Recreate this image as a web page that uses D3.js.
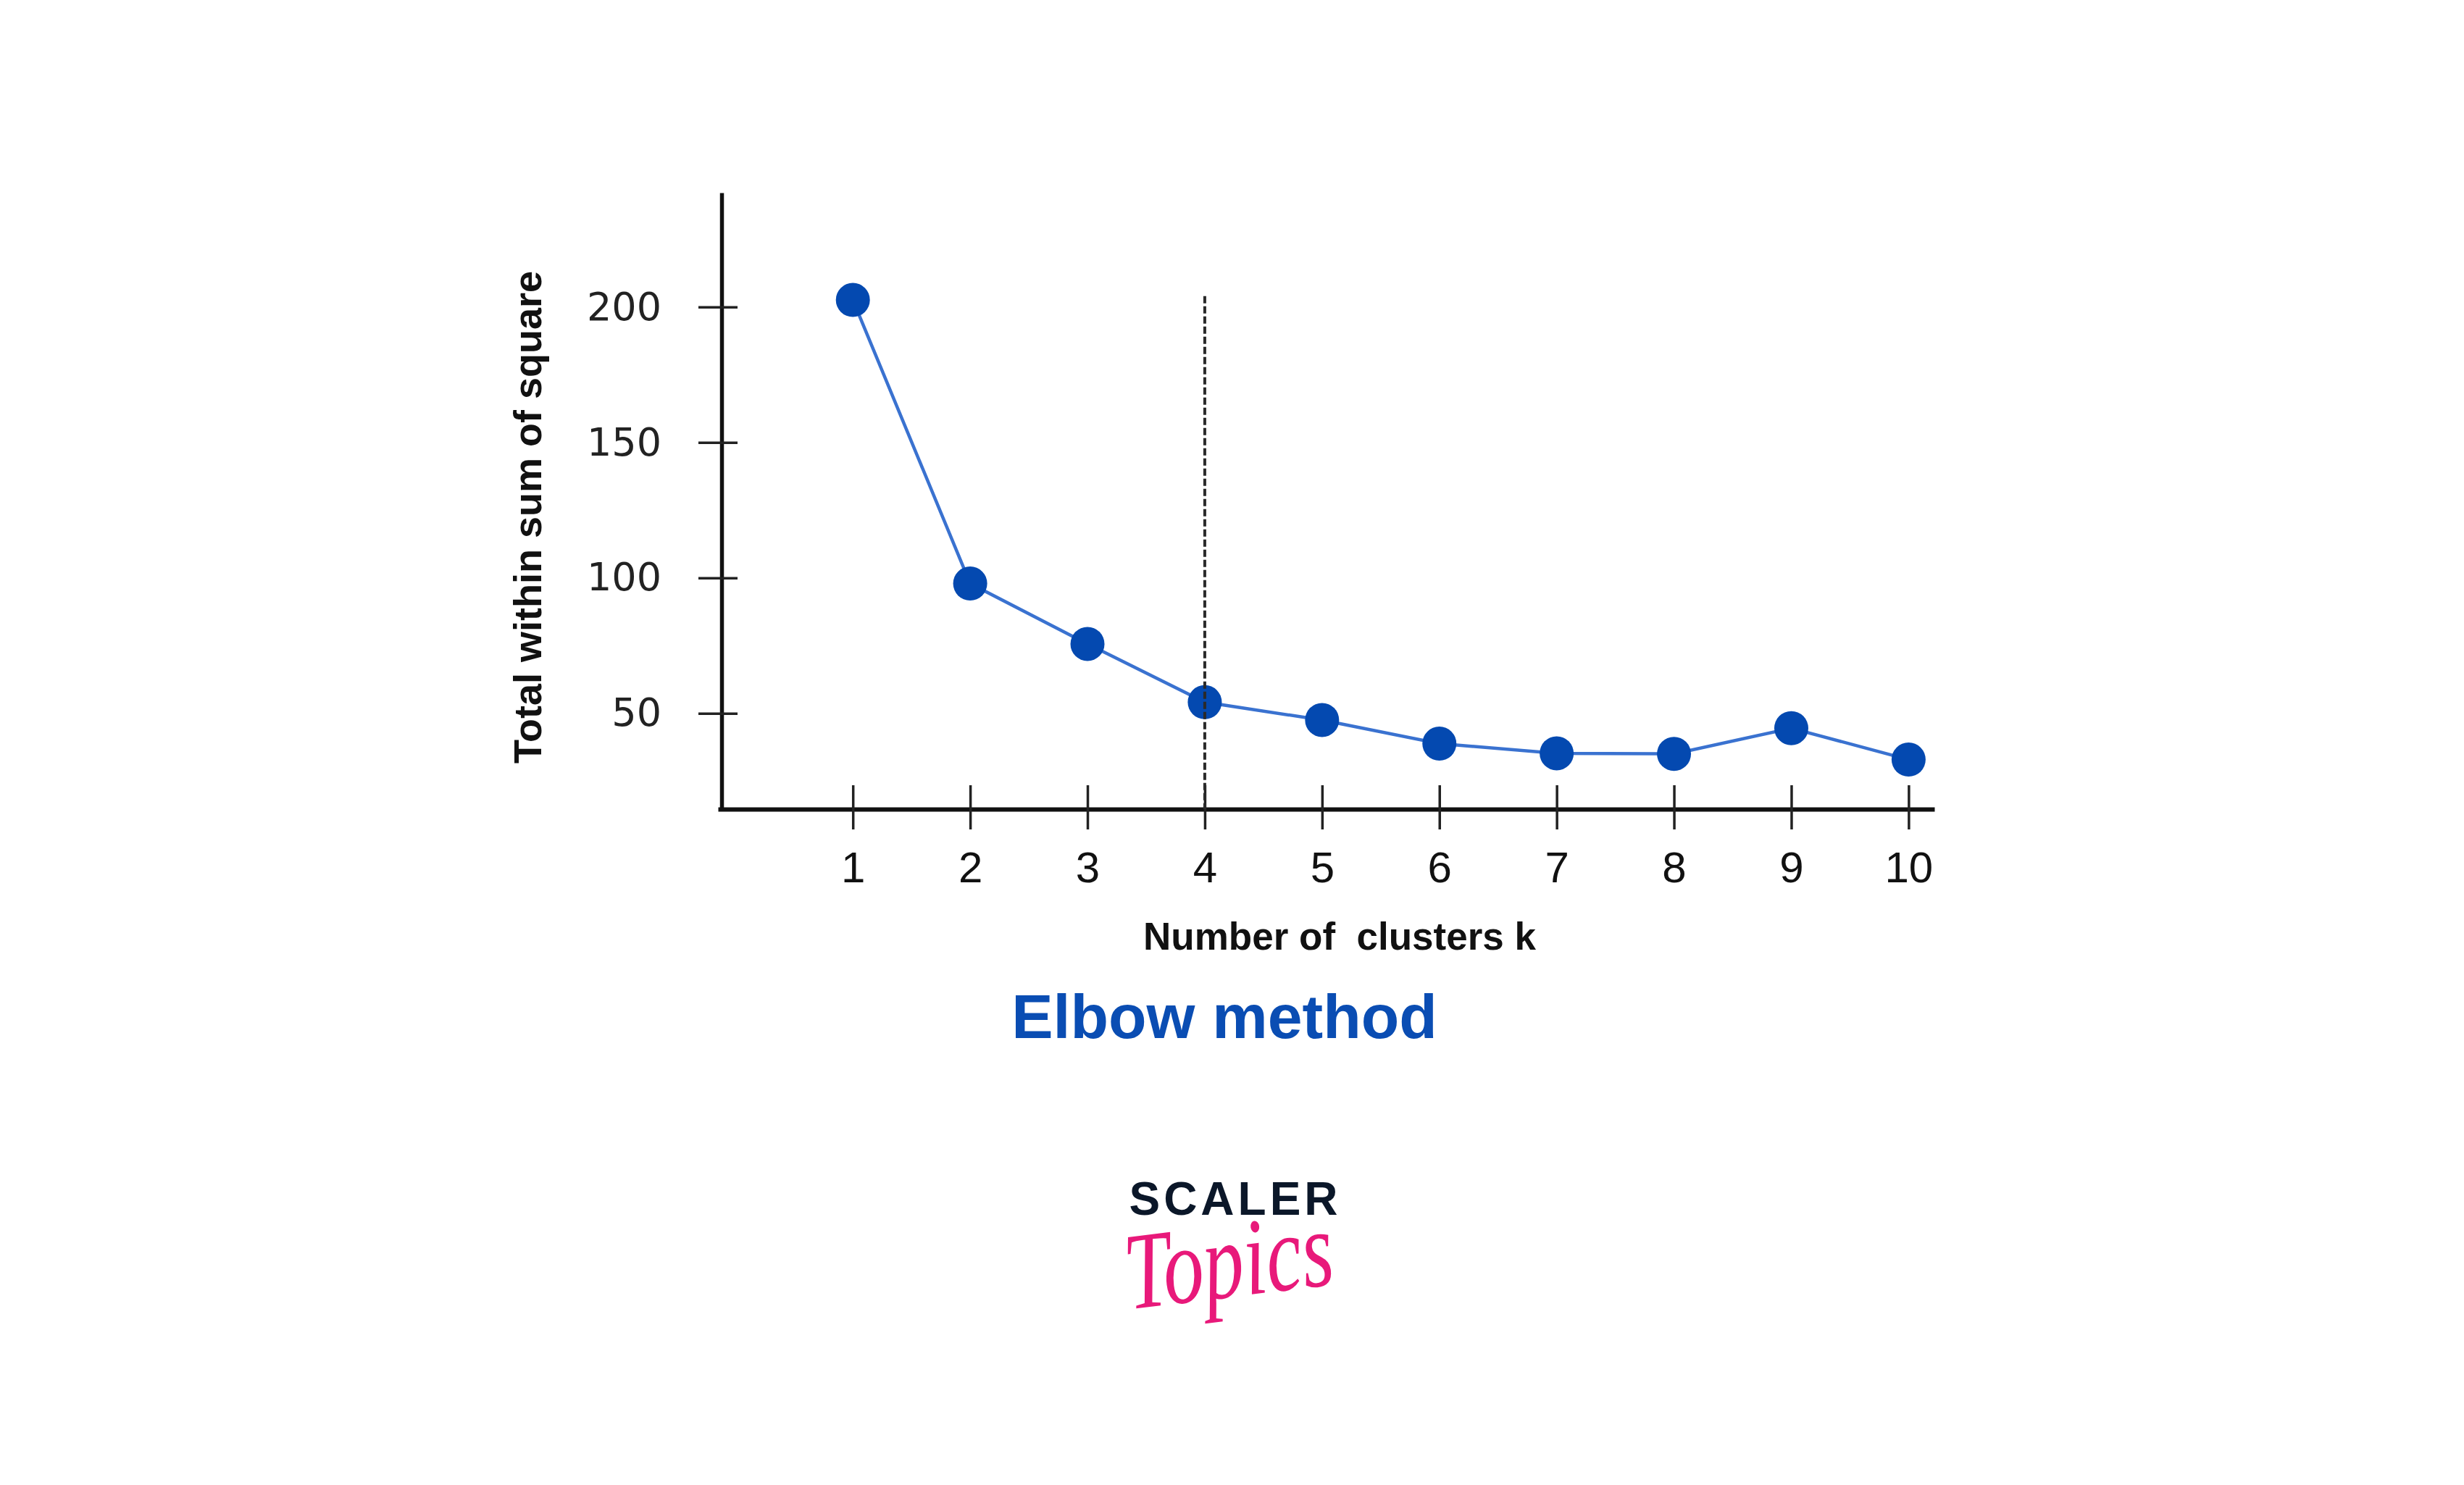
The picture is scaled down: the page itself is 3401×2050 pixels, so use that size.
<!DOCTYPE html>
<html>
<head>
<meta charset="utf-8">
<script src="https://cdn.jsdelivr.net/npm/d3@7"></script>
<style>
  html, body { margin: 0; padding: 0; background: #fff; }
  svg { display: block; }
</style>
</head>
<body>
<svg width="3401" height="2050"></svg>
<script>
// number of clusters k (x values)
const clusters = [1, 2, 3, 4, 5, 6, 7, 8, 9, 10];
// total within sum of square
const wss = [202.6, 97.9, 75.6, 54.1, 47.5, 38.8, 35.2, 35.0, 44.5, 32.9];
const xTicks = [1, 2, 3, 4, 5, 6, 7, 8, 9, 10];
const yTicks = [50, 100, 150, 200];
// the elbow, marked by the dashed line
const elbowK = 4;
const elbowTop = 204;

const data = clusters.map((k, i) => ({k: k, v: wss[i]}));

const svg = d3.select('svg');

svg.append('rect')
  .attr('width', 3401)
  .attr('height', 2050)
  .attr('fill', '#fff');

const x = d3.scaleLinear()
  .domain([-0.15, 10.22])
  .range([991, 2670]);

const y = d3.scaleLinear()
  .domain([14.6, 242.2])
  .range([1117, 266]);

// y axis, ticks cross the line
const yAxis = svg.append('g')
  .attr('class', 'axis axis--y')
  .attr('transform', 'translate(996,0)')
  .call(d3.axisLeft(y)
    .tickValues(yTicks)
    .tickSizeInner(32)
    .tickSizeOuter(0)
    .tickPadding(51));

yAxis.select('.domain')
  .attr('stroke', '#111')
  .attr('stroke-width', 5.5);

yAxis.selectAll('.tick line')
  .attr('x1', 22)
  .attr('stroke', '#222')
  .attr('stroke-width', 3.5);

yAxis.selectAll('.tick text')
  .attr('fill', '#222')
  .style('font-family', '"DejaVu Sans", sans-serif')
  .style('font-size', '54px');

// x axis
const xAxis = svg.append('g')
  .attr('class', 'axis axis--x')
  .attr('transform', 'translate(0,1117)')
  .call(d3.axisBottom(x)
    .tickValues(xTicks)
    .tickSizeInner(28)
    .tickSizeOuter(0)
    .tickPadding(30)
    .tickFormat(d3.format('d')));

xAxis.select('.domain')
  .attr('stroke', '#111')
  .attr('stroke-width', 6);

xAxis.selectAll('.tick line')
  .attr('y1', -33)
  .attr('stroke', '#222')
  .attr('stroke-width', 3.5);

xAxis.selectAll('.tick text')
  .attr('fill', '#111')
  .style('font-family', '"Liberation Sans", Arial, sans-serif')
  .style('font-size', '60px');

// the curve
const line = d3.line()
  .x(d => x(d.k))
  .y(d => y(d.v));

svg.append('path')
  .datum(data)
  .attr('d', line)
  .attr('fill', 'none')
  .attr('stroke', '#3a72d0')
  .attr('stroke-width', 4.5);

svg.selectAll('.dot')
  .data(data)
  .enter().append('circle')
    .attr('class', 'dot')
    .attr('cx', d => x(d.k))
    .attr('cy', d => y(d.v))
    .attr('r', 23.5)
    .attr('fill', '#0449b0');

// dashed elbow marker, drawn over the dot
svg.append('line')
  .attr('x1', x(elbowK))
  .attr('x2', x(elbowK))
  .attr('y1', y(elbowTop))
  .attr('y2', y.range()[0])
  .attr('stroke', '#2a2a2a')
  .attr('stroke-width', 4)
  .attr('stroke-dasharray', '10,4');

// axis titles
svg.append('text')
  .attr('transform', 'translate(747,714) rotate(-90)')
  .attr('text-anchor', 'middle')
  .attr('fill', '#111')
  .style('font-family', '"Liberation Sans", Arial, sans-serif')
  .style('font-weight', 'bold')
  .style('font-size', '54px')
  .text('Total within sum of square');

svg.append('text')
  .attr('x', 1849)
  .attr('y', 1311)
  .attr('text-anchor', 'middle')
  .attr('fill', '#111')
  .style('white-space', 'pre')
  .style('font-family', '"Liberation Sans", Arial, sans-serif')
  .style('font-weight', 'bold')
  .style('font-size', '53px')
  .text('Number of  clusters k');

svg.append('text')
  .attr('x', 1690)
  .attr('y', 1433)
  .attr('text-anchor', 'middle')
  .attr('fill', '#0a4db3')
  .style('font-family', '"Liberation Sans", Arial, sans-serif')
  .style('font-weight', 'bold')
  .style('font-size', '86px')
  .text('Elbow method');

// logo
svg.append('text')
  .attr('x', 1705)
  .attr('y', 1677)
  .attr('text-anchor', 'middle')
  .attr('fill', '#0b1729')
  .style('font-family', '"Liberation Sans", Arial, sans-serif')
  .style('font-weight', 'bold')
  .style('font-size', '64px')
  .style('letter-spacing', '5px')
  .text('SCALER');

svg.append('text')
  .attr('transform', 'translate(1702,1790) rotate(-7) scale(1,1.35)')
  .attr('text-anchor', 'middle')
  .attr('fill', '#e8197a')
  .style('font-family', '"Liberation Serif", serif')
  .style('font-style', 'italic')
  .style('font-size', '112px')
  .text('Topics');
</script>
</body>
</html>
